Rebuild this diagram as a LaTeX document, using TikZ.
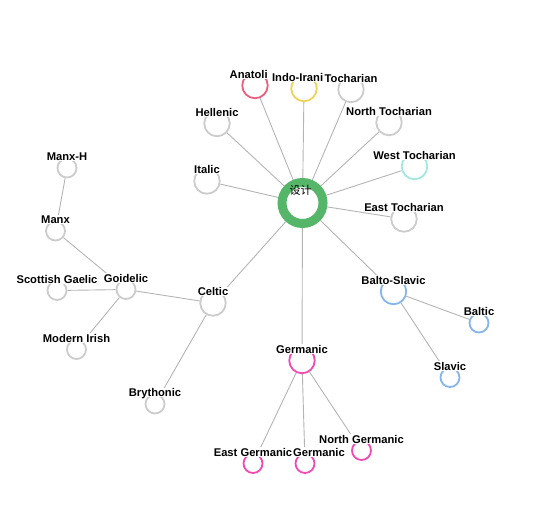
\documentclass[tikz,border=0pt]{standalone}
\usepackage{fontspec}
\setmainfont{Liberation Sans}
\newfontfamily\cjkfont{Noto Sans CJK SC}
\usetikzlibrary{backgrounds}
\definecolor{hubgreen}{HTML}{55B66A}
\definecolor{ringgrey}{HTML}{CCCCCC}
\definecolor{edgegrey}{HTML}{B4B4B4}
\definecolor{anatred}{HTML}{EB5F7F}
\definecolor{iranyellow}{HTML}{EED35A}
\definecolor{tochcyan}{HTML}{A0E8E0}
\definecolor{balticblue}{HTML}{85B5EA}
\definecolor{germpink}{HTML}{F04BB4}
\tikzset{
  hub/.style={circle, draw=hubgreen, fill=white, line width=9pt,
              minimum size=41pt, inner sep=0},
  langbig/.style={circle, draw=ringgrey, fill=white, line width=1.8pt,
                  minimum size=25.5pt, inner sep=0},
  langsmall/.style={langbig, minimum size=19pt},
  lbl/.style={font=\bfseries\fontsize{11.2}{13}\selectfont,
              text height=8pt, text depth=0pt,
              yshift=11.5pt, fill=white, inner sep=0.6pt},
  hublbl/.style={font=\cjkfont\fontsize{11}{13}\selectfont,
                 yshift=12.5pt, xshift=-2pt, inner sep=0},
  branch/.style={draw=edgegrey, line width=0.9pt},
}

\begin{document}
\begin{tikzpicture}[x=1pt, y=-1pt]
  \useasboundingbox (0,0) rectangle (553,527);

  % --- root ---
  \node[hub, label={[hublbl]center:设计}] (root) at (302.5,203) {};

  % --- first ring ---
  \node[langbig, draw=anatred, label={[lbl, xshift=-6.3pt]center:Anatoli}]
                                                   (anatolian)   at (255,85.5)   {};
  \node[langbig, draw=iranyellow, label={[lbl, xshift=-6.4pt]center:Indo-Irani}]
                                                   (indoiranian) at (304,88.5)   {};
  \node[langbig, label={[lbl]center:Tocharian}]      (tocharian)   at (351,89.5)   {};
  \node[langbig, label={[lbl]center:Hellenic}]       (hellenic)    at (217,123.5)  {};
  \node[langbig, label={[lbl]center:North Tocharian}] (northtoch)  at (389,122.5)  {};
  \node[langbig, label={[lbl]center:Italic}]         (italic)      at (207,181)    {};
  \node[langbig, draw=tochcyan, label={[lbl]center:West Tocharian}]
                                                   (westtoch)    at (414.5,166.5) {};
  \node[langbig, label={[lbl]center:East Tocharian}] (easttoch)    at (404,219)    {};
  \node[langbig, label={[lbl]center:Celtic}]         (celtic)      at (213,303)    {};
  \node[langbig, draw=balticblue, label={[lbl]center:Balto-Slavic}]
                                                   (baltoslavic) at (393.5,291.5) {};
  \node[langbig, draw=germpink, label={[lbl]center:Germanic}]
                                                   (germanic)    at (302,360.5)  {};

  % --- Celtic branch ---
  \node[langsmall, label={[lbl]center:Goidelic}]        (goidelic)  at (126,289.5) {};
  \node[langsmall, label={[lbl]center:Scottish Gaelic}] (scottish)  at (57,290.5)  {};
  \node[langsmall, label={[lbl]center:Manx}]            (manx)      at (55.5,231)  {};
  \node[langsmall, label={[lbl]center:Manx-H}]          (manxh)     at (67,168)    {};
  \node[langsmall, label={[lbl]center:Modern Irish}]    (modirish)  at (76.5,349.5) {};
  \node[langsmall, label={[lbl]center:Brythonic}]       (brythonic) at (155,404)   {};

  % --- Balto-Slavic branch ---
  \node[langsmall, draw=balticblue, label={[lbl]center:Baltic}] (baltic) at (479,323)   {};
  \node[langsmall, draw=balticblue, label={[lbl]center:Slavic}] (slavic) at (450,377.5) {};

  % --- Germanic branch ---
  \node[langsmall, draw=germpink, label={[lbl, xshift=14pt]center:Germanic}]
                                                   (westgerm)  at (305,463.5)   {};
  \node[langsmall, draw=germpink, label={[lbl]center:East Germanic}]
                                                   (eastgerm)  at (253,463.5)   {};
  \node[langsmall, draw=germpink, label={[lbl]center:North Germanic}]
                                                   (northgerm) at (361.5,450.5) {};

  % --- links ---
  \begin{scope}[on background layer]
    \foreach \kid in {anatolian,indoiranian,tocharian,hellenic,northtoch,italic,westtoch,easttoch,celtic,baltoslavic,germanic}
      \draw[branch] (root) -- (\kid);
    \foreach \up/\down in {celtic/goidelic,celtic/brythonic,goidelic/manx,goidelic/scottish,goidelic/modirish,manx/manxh,baltoslavic/baltic,baltoslavic/slavic,germanic/eastgerm,germanic/westgerm,germanic/northgerm}
      \draw[branch] (\up) -- (\down);
  \end{scope}
\end{tikzpicture}
\end{document}
